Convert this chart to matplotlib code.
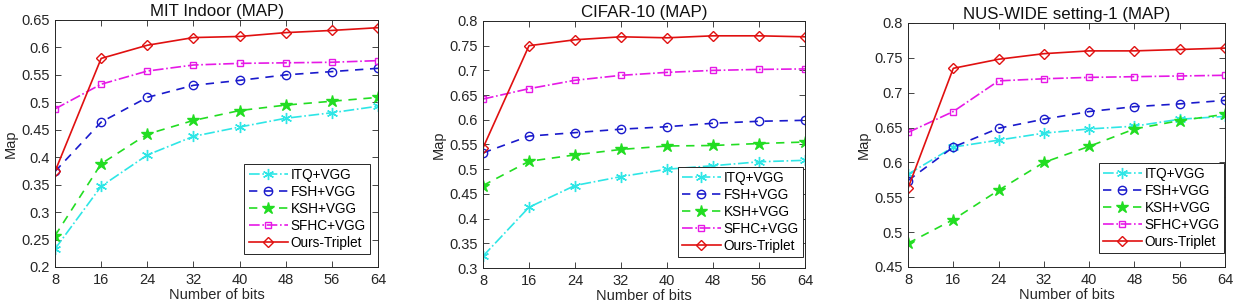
import matplotlib
matplotlib.use("Agg")
import matplotlib.pyplot as plt

plt.rcParams["font.family"] = ["Liberation Sans", "DejaVu Sans"]

bits = [8, 16, 24, 32, 40, 48, 56, 64]
methods = ["ITQ+VGG", "FSH+VGG", "KSH+VGG", "SFHC+VGG", "Ours-Triplet"]

mit_itq = [0.233, 0.347, 0.404, 0.438, 0.455, 0.471, 0.481, 0.493]
mit_fsh = [0.374, 0.464, 0.509, 0.531, 0.540, 0.550, 0.556, 0.562]
mit_ksh = [0.257, 0.388, 0.442, 0.467, 0.485, 0.495, 0.502, 0.509]
mit_sfhc = [0.488, 0.533, 0.557, 0.568, 0.571, 0.572, 0.573, 0.576]
mit_ours = [0.374, 0.580, 0.604, 0.618, 0.620, 0.627, 0.631, 0.636]

cifar_itq = [0.324, 0.423, 0.467, 0.485, 0.500, 0.507, 0.515, 0.518]
cifar_fsh = [0.533, 0.567, 0.574, 0.581, 0.586, 0.593, 0.597, 0.599]
cifar_ksh = [0.467, 0.516, 0.529, 0.540, 0.547, 0.548, 0.552, 0.555]
cifar_sfhc = [0.642, 0.663, 0.680, 0.690, 0.696, 0.700, 0.702, 0.703]
cifar_ours = [0.543, 0.750, 0.762, 0.768, 0.766, 0.770, 0.770, 0.768]

nus_itq = [0.583, 0.622, 0.632, 0.642, 0.648, 0.652, 0.662, 0.666]
nus_fsh = [0.574, 0.622, 0.649, 0.662, 0.673, 0.680, 0.684, 0.689]
nus_ksh = [0.484, 0.518, 0.560, 0.600, 0.623, 0.648, 0.660, 0.669]
nus_sfhc = [0.643, 0.673, 0.717, 0.720, 0.722, 0.723, 0.724, 0.725]
nus_ours = [0.563, 0.735, 0.748, 0.756, 0.760, 0.760, 0.762, 0.764]

titles = ["MIT Indoor (MAP)", "CIFAR-10 (MAP)", "NUS-WIDE setting-1 (MAP)"]
yticks = [
    [0.2, 0.25, 0.3, 0.35, 0.4, 0.45, 0.5, 0.55, 0.6, 0.65],
    [0.3, 0.35, 0.4, 0.45, 0.5, 0.55, 0.6, 0.65, 0.7, 0.75, 0.8],
    [0.45, 0.5, 0.55, 0.6, 0.65, 0.7, 0.75, 0.8],
]
panels = [
    [mit_itq, mit_fsh, mit_ksh, mit_sfhc, mit_ours],
    [cifar_itq, cifar_fsh, cifar_ksh, cifar_sfhc, cifar_ours],
    [nus_itq, nus_fsh, nus_ksh, nus_sfhc, nus_ours],
]

styles = [
    dict(color="#2ee6e6", linestyle="-.", marker=(6, 2, 0), markersize=8, markerfacecolor="none"),
    dict(color="#1a1acc", linestyle=(0, (5, 4)), marker="o", markersize=6, markerfacecolor="none"),
    dict(color="#22dd22", linestyle=(0, (5, 4)), marker="*", markersize=9),
    dict(color="#e619e6", linestyle="-.", marker="s", markersize=5, markerfacecolor="none"),
    dict(color="#e01010", linestyle="-", marker="D", markersize=5, markerfacecolor="none"),
]

# axes boxes in pixels: left, right, top, bottom
boxes = [(55, 378, 20, 267), (483, 805, 21, 268), (908, 1225, 23, 267)]
legend_anchor = [(0.975, 0.053), (0.994, 0.045), (0.997, 0.057)]

W, H = 1234, 307
fig = plt.figure(figsize=(W / 100, H / 100), dpi=100)

for i, (l, r, t, b) in enumerate(boxes):
    ax = fig.add_axes([l / W, (H - b) / H, (r - l) / W, (b - t) / H])
    for vals, name, st in zip(panels[i], methods, styles):
        ax.plot(bits, vals, label=name, linewidth=1.2, markeredgewidth=1.0, **st)
    ax.set_xlim(8, 64)
    ax.set_ylim(yticks[i][0], yticks[i][-1])
    ax.set_xticks(bits)
    ax.set_yticks(yticks[i])
    ax.set_yticklabels([f"{v:g}" for v in yticks[i]])
    ax.tick_params(direction="in", top=True, right=True, labelsize=10.5, length=4,
                   width=0.6, colors="#262626", pad=4)
    for s in ax.spines.values():
        s.set_linewidth(0.7)
        s.set_color("#262626")
    ax.set_title(titles[i], fontsize=12.2, pad=3, color="#111111")
    ax.set_xlabel("Number of bits", fontsize=10.5, labelpad=1, color="#262626")
    ax.set_ylabel("Map", fontsize=10.5, labelpad=2, color="#262626")
    leg = ax.legend(loc="lower right", bbox_to_anchor=legend_anchor[i], borderaxespad=0,
                    fontsize=9.8, fancybox=False, edgecolor="#262626", framealpha=1,
                    handlelength=2.9, handletextpad=0.2, labelspacing=0.22,
                    borderpad=0.3)
    leg.get_frame().set_linewidth(0.7)

fig.savefig("out.png", dpi=100)
